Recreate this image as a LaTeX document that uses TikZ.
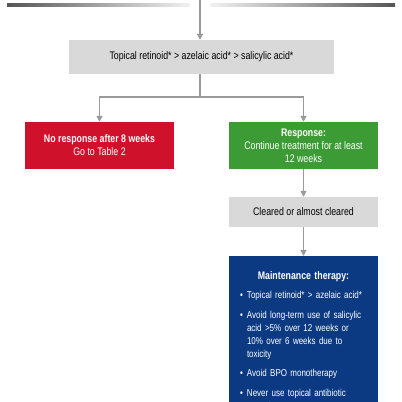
\documentclass[tikz,border=0pt]{standalone}
\usepackage{fontspec}
\setmainfont[FakeStretch=0.8]{Liberation Sans}
\usetikzlibrary{arrows.meta, positioning}

\definecolor{boxgrey}{HTML}{D9D9D9}
\definecolor{linegrey}{HTML}{9A9A9A}
\definecolor{alarmred}{HTML}{D0112B}
\definecolor{okgreen}{HTML}{3C9B34}
\definecolor{keepblue}{HTML}{0B3A82}
\definecolor{bardark}{HTML}{555555}
\definecolor{barlight}{HTML}{F2F2F2}

\newcommand{\bitem}[1]{\par\vspace{6.5pt}\noindent\hangindent=7pt\hangafter=1\makebox[7pt][l]{\textbullet}#1\par}

\begin{document}
\begin{tikzpicture}[x=1pt, y=-1pt,
  every node/.style={font=\fontsize{11}{13}\selectfont},
  greybox/.style={fill=boxgrey, align=center, inner sep=0pt},
  colbox/.style={text=white, align=center, inner sep=0pt, minimum width=149pt, minimum height=47pt},
  line/.style={draw=linegrey, line width=1.4pt},
  arr/.style={line, -{Triangle[width=6pt,length=6pt]}}]

\clip (0,0) rectangle (402,402);

% top rule
\shade[left color=bardark, right color=barlight] (7,3.5) rectangle (190,6.5);
\shade[left color=barlight, right color=bardark] (210,3.5) rectangle (395,6.5);

\coordinate (top) at (200,0);
\node[greybox, minimum width=265pt, minimum height=34pt] (first) at (201.5,57) {Topical retinoid* > azelaic acid* > salicylic acid*};
\draw[arr] (top) -- (top |- first.north);

\node[colbox, fill=alarmred] (nores) at (99.5,145.5) {\textbf{No response after 8 weeks}\\Go to Table 2};
\node[colbox, fill=okgreen] (res) at (303.5,145.5) {\textbf{Response:}\\Continue treatment for at least\\12 weeks};

\coordinate (split) at (200,97);
\draw[line] (first.south -| split) -- (split);
\draw[arr] (split) -| (nores);
\draw[arr] (split) -| (res);

\node[greybox, minimum width=149pt, minimum height=30pt] (clear) at (303.5,212) {Cleared or almost cleared};
\draw[arr] (res) -- (clear);

\node[fill=keepblue, text=white, anchor=north, text width=127pt, inner xsep=11pt, inner ysep=10pt, minimum height=170pt, align=left, font=\fontsize{10}{13}\selectfont] (keep) at (303.5,256) {%
  {\centering\fontsize{11}{13}\selectfont\textbf{Maintenance therapy:}\par}\raggedright
  \bitem{Topical retinoid* > azelaic acid*}
  \bitem{Avoid long-term use of salicylic acid >5\% over 12 weeks or 10\% over 6 weeks due to toxicity}
  \bitem{Avoid BPO monotherapy}
  \bitem{Never use topical antibiotic monotherapy}};
\draw[arr] (clear) -- (keep);
\end{tikzpicture}
\end{document}
